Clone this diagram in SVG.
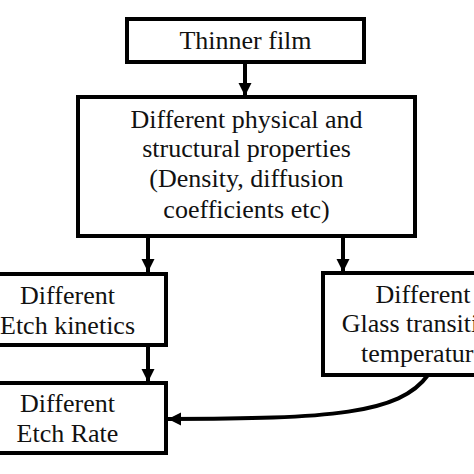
<svg xmlns="http://www.w3.org/2000/svg" width="474" height="474" viewBox="0 0 474 474">
<style>
.box{fill:#fff;stroke:#000;stroke-width:4}
.t{font-family:"Liberation Serif","Times New Roman",serif;font-size:26px;fill:#111;text-anchor:middle}
.c{fill:none;stroke:#000;stroke-width:4}
</style>
<defs>
<marker id="ah" markerUnits="userSpaceOnUse" markerWidth="14" markerHeight="14" viewBox="0 0 14 14" refX="13" refY="7" orient="auto">
<path d="M0,0.5 L13,7 L0,13.5 Z" fill="#000"/>
</marker>
</defs>
<rect width="474" height="474" fill="#fff"/>
<g id="connectors">
<line class="c" x1="245" y1="62" x2="245" y2="96" marker-end="url(#ah)"/>
<line class="c" x1="148" y1="236" x2="148" y2="272" marker-end="url(#ah)"/>
<line class="c" x1="343" y1="236" x2="343" y2="272" marker-end="url(#ah)"/>
<line class="c" x1="148" y1="346" x2="148" y2="382" marker-end="url(#ah)"/>
<path class="c" d="M428,375 C400,414 330,419 168,419" marker-end="url(#ah)"/>
</g>
<g id="n1">
<rect class="box" x="127" y="19" width="237" height="43"/>
<text class="t" x="245.5" y="49">Thinner film</text>
</g>
<g id="n2">
<rect class="box" x="78" y="97" width="337" height="139"/>
<text class="t" x="246.5" y="128">Different physical and</text>
<text class="t" x="246.5" y="157">structural properties</text>
<text class="t" x="246.5" y="187">(Density, diffusion</text>
<text class="t" x="246.5" y="218">coefficients etc)</text>
</g>
<g id="n3">
<rect class="box" x="-31" y="274" width="197" height="71"/>
<text class="t" x="67.5" y="304">Different</text>
<text class="t" x="67.5" y="334">Etch kinetics</text>
</g>
<g id="n4">
<rect class="box" x="-31" y="383" width="197" height="70"/>
<text class="t" x="67.5" y="412">Different</text>
<text class="t" x="67.5" y="442">Etch Rate</text>
</g>
<g id="n5">
<rect class="box" x="323" y="273" width="200" height="102"/>
<text class="t" x="423" y="303">Different</text>
<text class="t" x="423" y="332">Glass transition</text>
<text class="t" x="423" y="362">temperature</text>
</g>
</svg>
